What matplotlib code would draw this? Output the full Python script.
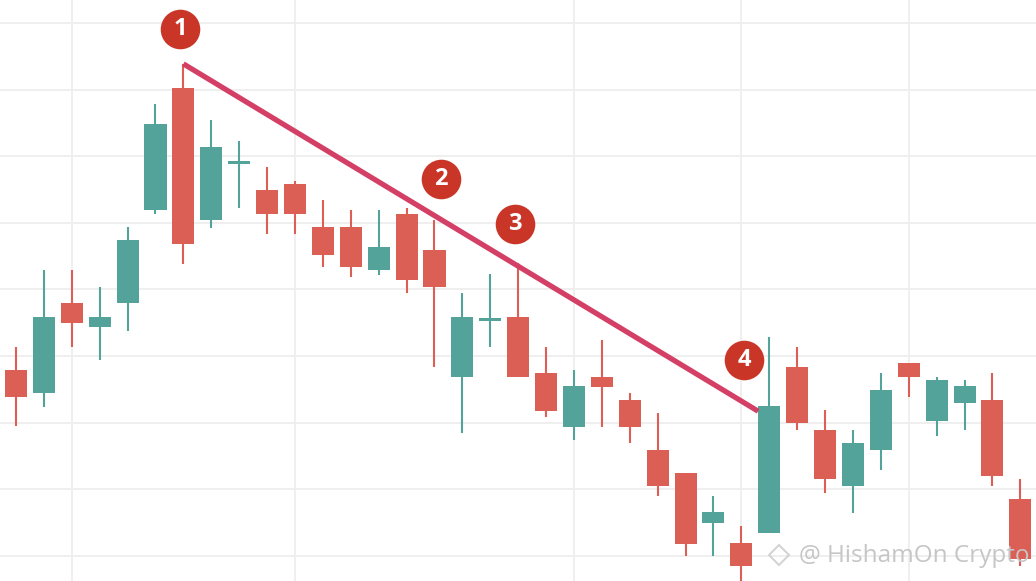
import matplotlib
matplotlib.use("Agg")
import matplotlib.pyplot as plt
import numpy as np

# OHLC candles, oldest first
opens = [37.95, 34.4, 48.0, 44.3, 47.9, 61.9, 80.3, 60.4, 68.9, 64.9,
         65.8, 59.4, 59.4, 52.9, 61.3, 55.9, 36.8, 45.3, 45.9, 37.4,
         29.4, 36.9, 33.4, 25.9, 22.4, 14.9, 11.95, 13.4, 38.4, 28.9,
         20.4, 25.8, 38.9, 30.3, 32.9, 33.4, 18.5]
highs = [41.4, 52.9, 52.9, 50.4, 59.4, 77.9, 83.9, 75.4, 72.3, 68.4,
         66.3, 63.4, 61.9, 61.9, 62.3, 60.5, 49.5, 52.3, 53.9, 41.4,
         37.9, 42.4, 34.4, 31.4, 22.4, 18.9, 14.4, 42.9, 41.4, 31.9,
         28.9, 37.4, 38.9, 36.9, 36.4, 37.4, 21.5]
lows = [29.5, 32.4, 41.3, 39.4, 43.8, 61.3, 53.8, 59.3, 62.3, 58.3,
        58.3, 53.3, 51.9, 52.2, 49.4, 38.3, 28.4, 41.3, 36.8, 30.9,
        27.3, 29.4, 26.9, 18.9, 10.0, 10.0, 6.2, 13.4, 28.8, 19.4,
        16.4, 22.8, 33.9, 27.9, 28.8, 20.4, 8.4]
closes = [33.9, 45.9, 44.9, 45.9, 57.4, 74.9, 56.8, 71.4, 69.2, 61.3,
          61.3, 55.2, 53.3, 56.4, 51.4, 50.3, 45.9, 45.5, 36.8, 31.8,
          35.5, 35.4, 29.4, 20.4, 11.8, 16.5, 8.4, 32.5, 29.9, 21.5,
          26.9, 34.9, 36.8, 36.4, 35.5, 21.9, 9.5]

# descending trendline drawn across the highs
trend_x = [6, 26.6]
trend_y = [83.9, 31.7]

# numbered touch points
touch_labels = ["1", "2", "3", "4"]
touch_x = [5.88, 15.24, 17.89, 26.1]
touch_y = [89.2, 66.6, 59.8, 39.4]

# price levels and session breaks for the grid
grid_levels = [10, 20, 30, 40, 50, 60, 70, 80, 90]
grid_breaks = [2, 10, 20, 26, 32]

UP = "#53a39a"
DOWN = "#dc5f56"


def main():
    fig = plt.figure(figsize=(10.36, 5.81), dpi=100)
    ax = fig.add_axes([0, 0, 1, 1])
    ax.set_xlim(-0.573, 36.56)
    ax.set_ylim(6.18, 93.5)
    ax.axis("off")

    for lv in grid_levels:
        ax.axhline(lv, color="#efefef", lw=1.4, zorder=0)
    for b in grid_breaks:
        ax.axvline(b, color="#efefef", lw=1.4, zorder=0)

    x = np.arange(len(opens))
    o = np.array(opens)
    c = np.array(closes)
    colors = [UP if cc >= oo else DOWN for oo, cc in zip(o, c)]
    bottoms = np.minimum(o, c)
    heights = np.maximum(np.abs(c - o), 0.35)

    ax.vlines(x, lows, highs, colors=colors, lw=1.5, zorder=2)
    ax.bar(x, heights, bottom=bottoms, width=0.79, color=colors,
           linewidth=0, zorder=3)

    ax.plot(trend_x, trend_y, color="#d33f65", lw=3.8,
            solid_capstyle="butt", zorder=4)

    for lab, tx, ty in zip(touch_labels, touch_x, touch_y):
        ax.plot(tx, ty, "o", ms=28.5, color="#c93628", mec="none", zorder=5)
        ax.text(tx, ty, lab, color="white", fontsize=17, fontweight="bold",
                family="Open Sans", ha="center", va="center", zorder=6)

    # watermark in the lower right corner
    ax.plot((779 - 16) / 27.89, 10 - (555 - 555.6) / 6.654, "D", ms=10,
            mfc="none", mec="#d2d2d2", mew=1.4, zorder=6)
    ax.text((799 - 16) / 27.89, 10 - (556 - 555.6) / 6.654,
            "@ HishamOn Crypto", color="#c6c6c6", fontsize=17.5,
            family="Open Sans", ha="left", va="center", zorder=6)

    fig.savefig("out.png", dpi=100, facecolor="white")


if __name__ == "__main__":
    main()
